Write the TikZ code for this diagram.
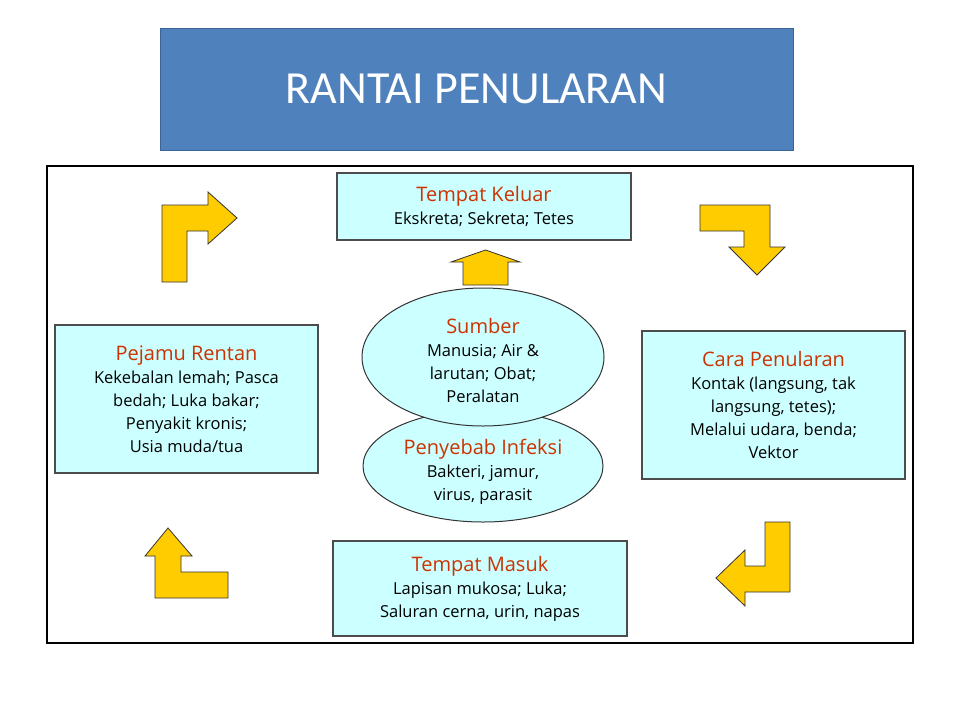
\documentclass[tikz,border=0pt]{standalone}
\usepackage{fontspec}
\setmainfont{Carlito}
\newfontfamily\boxfont{Open Sans}
\definecolor{tbl}{HTML}{4F81BD}
\definecolor{tbd}{HTML}{3A6596}
\definecolor{cy}{HTML}{CCFFFF}
\definecolor{rd}{HTML}{CC3300}
\definecolor{yl}{HTML}{FFCC00}
\tikzset{
 infobox/.style={draw=black!70,line width=1.2pt,fill=cy,align=center,inner sep=0pt},
 ell/.style={draw=black!80,line width=1pt,fill=cy},
 barrow/.style={draw=black!80,line width=0.8pt,fill=yl,line join=miter},
}
\newcommand{\hd}[1]{{\color{rd}\fontsize{20}{25}\selectfont #1}}
\begin{document}
\begin{tikzpicture}[x=1pt,y=-1pt,every node/.style={font=\boxfont\fontsize{16.5}{23}\selectfont}]
\useasboundingbox (0,0) rectangle (960,720);
\fill[white] (0,0) rectangle (960,720);
% title
\node[draw=tbd,line width=1pt,fill=tbl,minimum width=633pt,minimum height=122pt,inner sep=0pt,
 font=\fontsize{46}{50}\selectfont,text=white] (title) at (476.5,89) {RANTAI PENULARAN};
% frame
\node[draw=black,line width=2.5pt,minimum width=866pt,minimum height=477pt,inner sep=0pt] (frame) at (480,404.5) {};
% boxes
\node[infobox,minimum width=294pt,minimum height=67pt] (keluar) at (484,206.5)
 {\hd{Tempat Keluar}\\Ekskreta; Sekreta; Tetes};
\node[infobox,minimum width=263pt,minimum height=148pt] (pejamu) at (186.5,399)
 {\hd{Pejamu Rentan}\\Kekebalan lemah; Pasca\\bedah; Luka bakar;\\Penyakit kronis;\\Usia muda/tua};
\node[infobox,minimum width=263pt,minimum height=148pt] (cara) at (773.5,405)
 {\hd{Cara Penularan}\\Kontak (langsung, tak\\langsung, tetes);\\Melalui udara, benda;\\Vektor};
\node[infobox,minimum width=294pt,minimum height=95pt] (masuk) at (480,588.5)
 {\hd{Tempat Masuk}\\Lapisan mukosa; Luka;\\Saluran cerna, urin, napas};
% ellipses
\path[ell] (483,466) ellipse [x radius=120, y radius=56];
\node[align=center] (penyebab) at (483,472) {\hd{Penyebab Infeksi}\\Bakteri, jamur,\\virus, parasit};
\path[ell] (483,357) ellipse [x radius=121, y radius=69];
\node[align=center] (sumber) at (483,360) {\hd{Sumber}\\Manusia; Air \&\\larutan; Obat;\\Peralatan};
% up arrow
\draw[barrow] (463,285) -- (463,262) -- (451,262) -- (485.5,250) -- (520,262) -- (508,262) -- (508,285) -- cycle;
% bent arrows
\draw[barrow] (162,282) -- (162,205) -- (208,205) -- (208,192) -- (237,218) -- (208,244) -- (208,231) -- (187,231) -- (187,282) -- cycle;
\draw[barrow] (700,205) -- (770,205) -- (770,247) -- (785,247) -- (757,275) -- (729,247) -- (744,247) -- (744,231) -- (700,231) -- cycle;
\draw[barrow] (765,522) -- (790,522) -- (790,592) -- (745,592) -- (745,606) -- (716,578) -- (745,550) -- (745,566) -- (765,566) -- cycle;
\draw[barrow] (155,598) -- (155,556) -- (145,556) -- (168,528) -- (192,556) -- (181,556) -- (181,572) -- (228,572) -- (228,598) -- cycle;
\end{tikzpicture}
\end{document}
